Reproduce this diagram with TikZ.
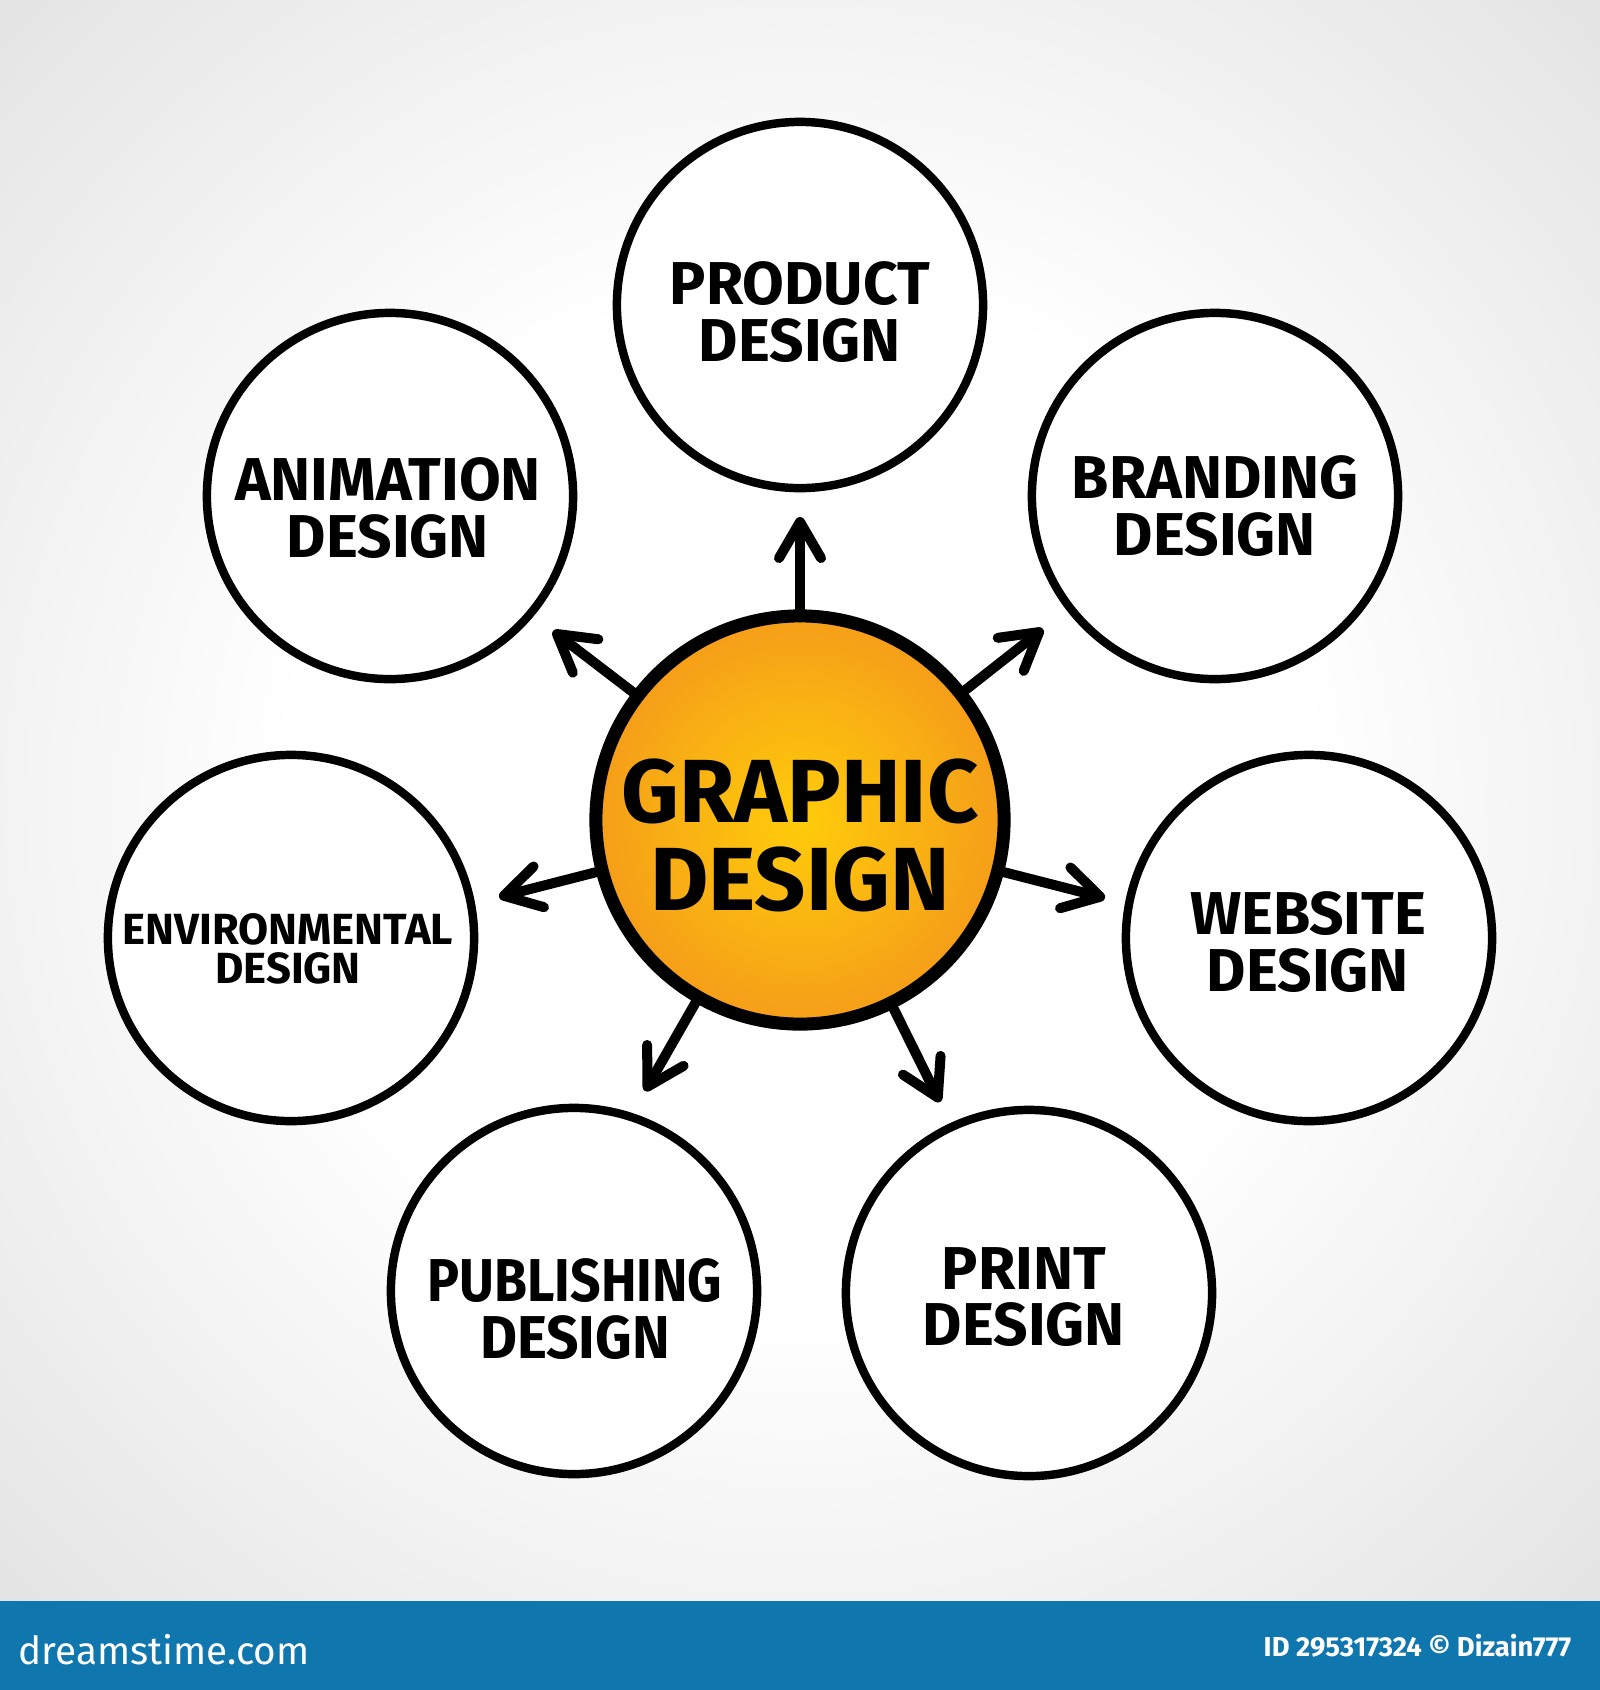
\documentclass[tikz,border=0pt]{standalone}
\usepackage{fontspec}
\setmainfont{Fira Sans}
\usetikzlibrary{arrows.meta,calc}
\definecolor{barblue}{RGB}{16,118,174}
\definecolor{hubyellow}{RGB}{255,204,10}
\definecolor{huborange}{RGB}{245,158,25}
\pgfdeclareradialshading{bgshade}{\pgfpoint{0bp}{0bp}}{color(0bp)=(white); color(16bp)=(white); color(36bp)=(black!11); color(50bp)=(black!11)}
\pgfdeclareradialshading{hubshade}{\pgfpoint{0bp}{0bp}}{color(0bp)=(hubyellow); color(25bp)=(huborange); color(50bp)=(huborange)}
\tikzset{
  outer/.style={circle, draw=black, line width=2.4pt, fill=white, minimum size=3.66cm, inner sep=0pt},
  hub/.style={circle, draw=black, line width=3.7pt, shading=hubshade, minimum size=4.08cm, inner sep=0pt},
  lab/.style={align=center, font=\fontsize{17.2}{16}\selectfont\bfseries, inner sep=0pt},
  smalllab/.style={align=center, font=\fontsize{12.4}{11}\selectfont\bfseries, inner sep=0pt},
  hublab/.style={align=center, font=\fontsize{25.5}{25}\selectfont\bfseries, inner sep=0pt},
  arr/.style={line width=2.85pt, line cap=round, line join=round, -{Straight Barb[length=0.36cm, width=0.42cm, round]}},
}
\begin{document}
\begin{tikzpicture}[x=0.01cm, y=-0.01cm]
\useasboundingbox (0,0) rectangle (1600,1690);
\shade[shading=bgshade] (0,0) rectangle (1600,1601);
\fill[barblue] (0,1601) rectangle (1600,1690);

% outer circles
\node[outer] (prod) at (800,305) {};
\node[outer] (anim) at (390,496) {};
\node[outer] (brand) at (1215,496) {};
\node[outer] (env) at (291,938) {};
\node[outer] (web) at (1309,938) {};
\node[outer] (pub) at (574,1291) {};
\node[outer] (print) at (1029,1293) {};

\node[lab] (prodt) at (800,312) {PRODUCT\\DESIGN};
\node[lab] (animt) at (388,508) {ANIMATION\\DESIGN};
\node[lab] (brandt) at (1215,506) {BRANDING\\DESIGN};
\node[smalllab] (envt) at (288,949) {ENVIRONMENTAL\\DESIGN};
\node[lab] (webt) at (1308,942) {WEBSITE\\DESIGN};
\node[lab, xscale=0.94] (pubt) at (575,1309) {\scalebox{0.94}[1]{PUBLISHING}\\DESIGN};
\node[lab] (printt) at (1024,1297) {PRINT\\DESIGN};

% hub
\node[hub] (g) at (800,820) {};
\node[hublab] (gt) at (800,835) {GRAPHIC\\DESIGN};

% arrow tips
\coordinate (tup) at (800,517);
\coordinate (tul) at (553,631);
\coordinate (tur) at (1043,629);
\coordinate (tl) at (499,897);
\coordinate (tr) at (1105,898);
\coordinate (tdl) at (645,1091);
\coordinate (tdr) at (940,1102);
\foreach \t in {tup,tul,tur,tl,tr,tdl,tdr}{
  \draw[arr] (g) -- (\t);
}

% footer
\node[anchor=west, text=white, font=\fontsize{11}{11}\selectfont, inner sep=0pt] (ds) at (18,1650) {dreamstime.com};
\node[anchor=east, text=white, font=\fontsize{7.8}{8}\selectfont\bfseries, inner sep=0pt] (idt) at (1572,1646) {ID 295317324 © Dizain777};
\end{tikzpicture}
\end{document}
